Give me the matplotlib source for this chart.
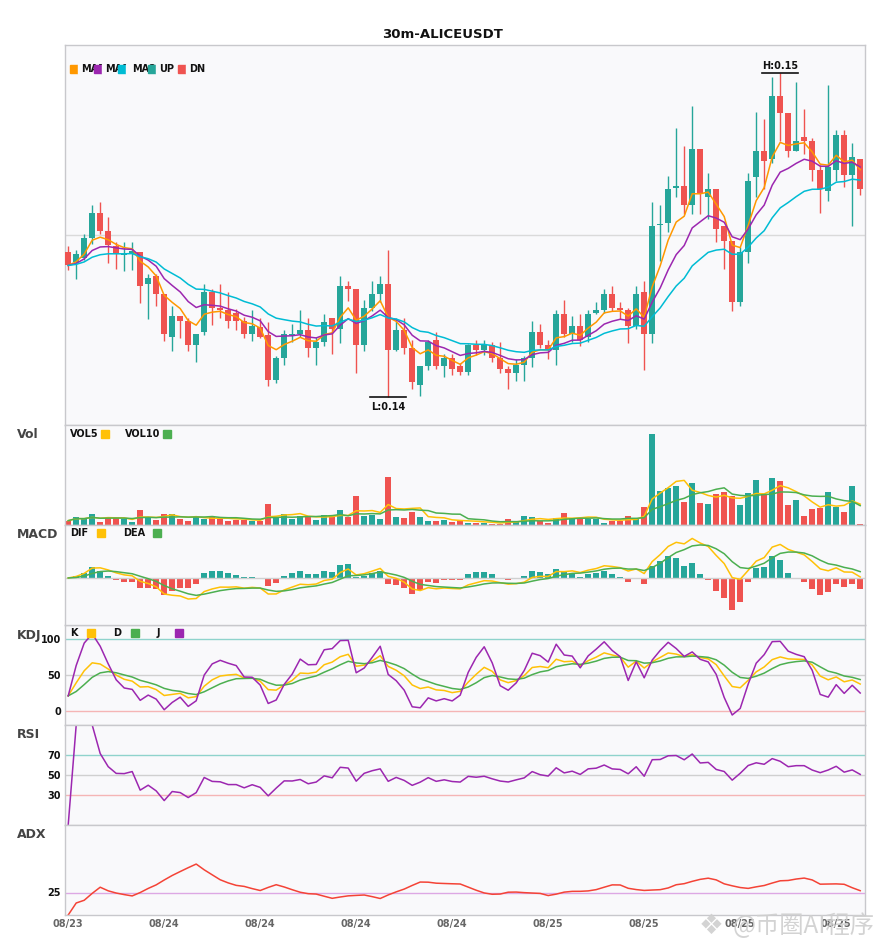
import numpy as np
import pandas as pd
import matplotlib
matplotlib.use("Agg")
import matplotlib.pyplot as plt
from matplotlib.patches import Rectangle

# ---------------- data ----------------
title = "30m-ALICEUSDT"
start_time = "2023-08-23 18:30"

opens = [0.14449, 0.14419, 0.14433, 0.14491, 0.14569, 0.14513, 0.14467, 0.14442, 0.14445, 0.14449,
         0.14354, 0.14377, 0.14325, 0.14195, 0.14257, 0.14242, 0.14171, 0.14209, 0.14329, 0.14282,
         0.14275, 0.14267, 0.14243, 0.14203, 0.14225, 0.14201, 0.14065, 0.14132, 0.14200, 0.14203,
         0.14217, 0.14163, 0.14179, 0.14251, 0.14219, 0.14347, 0.14339, 0.14171, 0.14281, 0.14323,
         0.14353, 0.14155, 0.14217, 0.14161, 0.14051, 0.14107, 0.14185, 0.14107, 0.14131, 0.14107,
         0.14089, 0.14171, 0.14157, 0.14171, 0.14133, 0.14099, 0.14085, 0.14109, 0.14131, 0.14209,
         0.14171, 0.14155, 0.14265, 0.14203, 0.14227, 0.14195, 0.14267, 0.14275, 0.14323, 0.14281,
         0.14275, 0.14227, 0.14329, 0.14203, 0.14531, 0.14537, 0.14643, 0.14649, 0.14593, 0.14761,
         0.14617, 0.14641, 0.14529, 0.14483, 0.14299, 0.14449, 0.14675, 0.14753, 0.14729, 0.14921,
         0.14867, 0.14753, 0.14795, 0.14785, 0.14697, 0.14633, 0.14697, 0.14801, 0.14681, 0.14729]
highs = [0.14467, 0.14457, 0.14505, 0.14593, 0.14601, 0.14555, 0.14481, 0.14481, 0.14481, 0.14449,
         0.14385, 0.14385, 0.14325, 0.14289, 0.14257, 0.14251, 0.14203, 0.14353, 0.14339, 0.14353,
         0.14329, 0.14279, 0.14255, 0.14275, 0.14251, 0.14240, 0.14137, 0.14217, 0.14233, 0.14275,
         0.14251, 0.14195, 0.14265, 0.14251, 0.14377, 0.14363, 0.14339, 0.14305, 0.14363, 0.14377,
         0.14457, 0.14251, 0.14251, 0.14185, 0.14107, 0.14185, 0.14209, 0.14145, 0.14145, 0.14115,
         0.14175, 0.14185, 0.14185, 0.14179, 0.14179, 0.14107, 0.14129, 0.14139, 0.14243, 0.14233,
         0.14185, 0.14275, 0.14305, 0.14257, 0.14265, 0.14275, 0.14299, 0.14339, 0.14347, 0.14299,
         0.14281, 0.14347, 0.14363, 0.14601, 0.14593, 0.14680, 0.14823, 0.14769, 0.14889, 0.14761,
         0.14689, 0.14641, 0.14529, 0.14483, 0.14465, 0.14689, 0.14873, 0.14849, 0.14977, 0.14990,
         0.14867, 0.14961, 0.14881, 0.14793, 0.14713, 0.14953, 0.14817, 0.14817, 0.14777, 0.14729]
lows = [0.14395, 0.14369, 0.14425, 0.14473, 0.14505, 0.14417, 0.14399, 0.14393, 0.14397, 0.14297,
        0.14249, 0.14289, 0.14183, 0.14153, 0.14193, 0.14153, 0.14120, 0.14201, 0.14230, 0.14251,
        0.14223, 0.14217, 0.14191, 0.14183, 0.14193, 0.14047, 0.14057, 0.14111, 0.14179, 0.14195,
        0.14135, 0.14111, 0.14169, 0.14143, 0.14177, 0.14303, 0.14087, 0.14153, 0.14273, 0.14299,
        0.14013, 0.14153, 0.14145, 0.14039, 0.14017, 0.14095, 0.14099, 0.14073, 0.14081, 0.14081,
        0.14081, 0.14141, 0.14141, 0.14119, 0.14087, 0.14039, 0.14063, 0.14063, 0.14105, 0.14161,
        0.14129, 0.14111, 0.14195, 0.14179, 0.14169, 0.14181, 0.14265, 0.14267, 0.14273, 0.14249,
        0.14177, 0.14219, 0.14095, 0.14177, 0.14423, 0.14510, 0.14615, 0.14565, 0.14565, 0.14565,
        0.14551, 0.14479, 0.14399, 0.14273, 0.14287, 0.14417, 0.14615, 0.14641, 0.14719, 0.14785,
        0.14735, 0.14753, 0.14745, 0.14665, 0.14567, 0.14605, 0.14665, 0.14647, 0.14529, 0.14623]
closes = [0.14410, 0.14443, 0.14491, 0.14569, 0.14513, 0.14472, 0.14445, 0.14444, 0.14453, 0.14348,
          0.14371, 0.14324, 0.14203, 0.14257, 0.14243, 0.14171, 0.14203, 0.14329, 0.14282, 0.14277,
          0.14243, 0.14243, 0.14203, 0.14227, 0.14195, 0.14065, 0.14131, 0.14203, 0.14202, 0.14217,
          0.14163, 0.14179, 0.14241, 0.14219, 0.14347, 0.14339, 0.14171, 0.14281, 0.14323, 0.14353,
          0.14155, 0.14217, 0.14161, 0.14059, 0.14107, 0.14179, 0.14107, 0.14131, 0.14099, 0.14089,
          0.14171, 0.14157, 0.14171, 0.14133, 0.14099, 0.14085, 0.14109, 0.14131, 0.14209, 0.14171,
          0.14155, 0.14265, 0.14203, 0.14227, 0.14187, 0.14265, 0.14275, 0.14323, 0.14281, 0.14275,
          0.14227, 0.14323, 0.14203, 0.14529, 0.14535, 0.14641, 0.14649, 0.14593, 0.14761, 0.14625,
          0.14641, 0.14521, 0.14483, 0.14299, 0.14449, 0.14665, 0.14753, 0.14723, 0.14921, 0.14867,
          0.14753, 0.14785, 0.14785, 0.14697, 0.14641, 0.14705, 0.14801, 0.14681, 0.14737, 0.14641]
# volume (thousand ALICE)
volumes = [13, 25, 19, 34, 10, 22, 22, 19, 10, 46,
           22, 16, 34, 34, 19, 13, 25, 19, 25, 19,
           13, 16, 16, 13, 13, 64, 25, 34, 19, 28,
           25, 16, 31, 25, 46, 25, 85, 28, 31, 19,
           142, 25, 22, 40, 25, 13, 13, 16, 10, 16,
           7, 7, 7, 4, 4, 19, 10, 28, 25, 13,
           7, 22, 37, 22, 19, 19, 19, 7, 13, 13,
           28, 22, 55, 271, 100, 109, 115, 70, 124, 67,
           64, 91, 97, 85, 61, 94, 133, 91, 139, 130,
           61, 76, 28, 49, 52, 97, 55, 40, 115, 4]

panel_names = ["Vol", "MACD", "KDJ", "RSI", "ADX"]
ma_labels = ["MA5", "MA10", "MA20", "UP", "DN"]

# ---------------- styles ----------------
UP, DN = "#26A69A", "#EF5350"
C_MA5, C_MA10, C_MA20 = "#FF9800", "#9C27B0", "#00BCD4"
C_Y, C_G, C_P = "#FFC107", "#4CAF50", "#9C27B0"
FACE = "#F9F9FB"
SPINE = "#C8C8CC"

df = pd.DataFrame(dict(open=opens, high=highs, low=lows, close=closes, vol=volumes))
n = len(df)
x = np.arange(n)
times = pd.date_range(start_time, periods=n, freq="30min")
o, h, l, c, v = df["open"], df["high"], df["low"], df["close"], df["vol"]
up = (c >= o).values
cols = np.where(up, UP, DN)

# indicators
ma5 = c.ewm(span=5, adjust=False).mean()
ma10 = c.ewm(span=10, adjust=False).mean()
ma20 = c.ewm(span=20, adjust=False).mean()
vol5 = v.rolling(5, min_periods=1).mean()
vol10 = v.rolling(10, min_periods=1).mean()

ema_fast = c.ewm(span=6, adjust=False).mean()
ema_slow = c.ewm(span=13, adjust=False).mean()
dif = ema_fast - ema_slow
dea = dif.ewm(span=5, adjust=False).mean()
hist = dif - dea

llv = l.rolling(9, min_periods=1).min()
hhv = h.rolling(9, min_periods=1).max()
rsv = ((c - llv) / (hhv - llv) * 100).fillna(50)
K = rsv.ewm(com=2, adjust=False).mean()
D = K.ewm(com=2, adjust=False).mean()
J = 3 * K - 2 * D

diff = c.diff().fillna(0)
gain = diff.clip(lower=0).ewm(alpha=1 / 14, adjust=False).mean()
loss = (-diff.clip(upper=0)).ewm(alpha=1 / 14, adjust=False).mean()
rsi = (100 * gain / (gain + loss)).fillna(0)

prev_c = c.shift(1).fillna(c.iloc[0])
tr = pd.concat([h - l, (h - prev_c).abs(), (l - prev_c).abs()], axis=1).max(axis=1)
up_move = h.diff().fillna(0)
dn_move = (-l.diff()).fillna(0)
pdm = np.where((up_move > dn_move) & (up_move > 0), up_move, 0.0)
mdm = np.where((dn_move > up_move) & (dn_move > 0), dn_move, 0.0)
atr = tr.ewm(span=14, adjust=False).mean()
pdi = 100 * pd.Series(pdm).ewm(span=14, adjust=False).mean() / atr
mdi = 100 * pd.Series(mdm).ewm(span=14, adjust=False).mean() / atr
dx = (100 * (pdi - mdi).abs() / (pdi + mdi)).fillna(0)
adx = dx.ewm(span=14, adjust=False).mean()

# ---------------- figure ----------------
W, H = 885, 950
fig = plt.figure(figsize=(W / 100, H / 100), dpi=100)
L0, R0 = 65, 865


def mk_ax(top, bottom):
    return fig.add_axes([L0 / W, 1 - bottom / H, (R0 - L0) / W, (bottom - top) / H])


ax_main = mk_ax(45, 425)
ax_vol = mk_ax(425, 525)
ax_macd = mk_ax(525, 625)
ax_kdj = mk_ax(625, 725)
ax_rsi = mk_ax(725, 825)
ax_adx = mk_ax(825, 915)
axes = [ax_main, ax_vol, ax_macd, ax_kdj, ax_rsi, ax_adx]

for ax in axes:
    ax.set_facecolor(FACE)
    for s in ax.spines.values():
        s.set_color(SPINE)
        s.set_linewidth(1)
    ax.set_xlim(-0.4, n - 0.4)
    ax.tick_params(length=0, labelsize=7)
    ax.set_xticks([])
    ax.set_yticks([])

# main candles
ax_main.vlines(x, l, h, colors=cols, lw=1.0, zorder=2)
body_lo = np.minimum(o, c)
body_h = np.maximum((c - o).abs().values, 0.00003)
ax_main.bar(x, body_h, bottom=body_lo, width=0.75, color=cols, zorder=3, linewidth=0)
ax_main.plot(x, ma5, color=C_MA5, lw=1.1, zorder=4)
ax_main.plot(x, ma10, color=C_MA10, lw=1.1, zorder=4)
ax_main.plot(x, ma20, color=C_MA20, lw=1.1, zorder=4)
lo_v, hi_v = l.min(), h.max()
pad = 0.085 * (hi_v - lo_v)
ax_main.set_ylim(lo_v - pad, hi_v + pad)
ax_main.set_yticks([0.145])
ax_main.set_yticklabels([])
ax_main.yaxis.grid(True, color="#DADADA", lw=1)
ax_main.set_axisbelow(True)

ih, il = int(h.values.argmax()), int(l.values.argmin())
ax_main.plot([ih - 2.25, ih + 2.25], [hi_v, hi_v], color="#111", lw=1.2, zorder=5)
ax_main.annotate(f"H:{hi_v:.2f}", (ih, hi_v), xytext=(0, 1.5), textcoords="offset points",
                 ha="center", va="bottom", fontsize=7, fontweight="bold", color="#111")
ax_main.plot([il - 2.25, il + 2.25], [lo_v, lo_v], color="#111", lw=1.2, zorder=5)
ax_main.annotate(f"L:{lo_v:.2f}", (il, lo_v), xytext=(0, -3), textcoords="offset points",
                 ha="center", va="top", fontsize=7, fontweight="bold", color="#111")


def ax_px(ax, px, py, top):
    """axes-fraction coords from figure pixel offsets"""
    bb = ax.get_position()
    return (px - L0) / (R0 - L0), 1 - (py - top) / (bb.height * H)


# main legend (markers first; each entry covers the previous one)
main_cols = [C_MA5, C_MA10, C_MA20, UP, DN]
main_hx = [70, 94, 118, 148, 178]
main_tx = [81, 105, 132, 159, 189]
for k, (lab, colr, hx, tx) in enumerate(zip(ma_labels, main_cols, main_hx, main_tx)):
    z = 10 + 2 * k
    xt, yt = ax_px(ax_main, tx, 69, 45)
    ax_main.text(xt, yt, lab, transform=ax_main.transAxes, fontsize=7, fontweight="bold",
                 va="center", ha="left", color="#111", zorder=z,
                 bbox=dict(boxstyle="square,pad=0.35", fc=FACE, ec="none"))
    xa, ya = ax_px(ax_main, hx, 69, 45)
    ax_main.add_patch(Rectangle((xa, ya - 4 / 380), 8 / 800, 8 / 380, transform=ax_main.transAxes,
                                color=colr, zorder=z + 1, clip_on=False))
    ax_main.add_patch(Rectangle((xa + 8 / 800, ya - 5 / 380), (tx - hx - 8) / 800, 10 / 380,
                                transform=ax_main.transAxes, color=FACE, zorder=z + 1))


def small_legend(ax, top, items, ypx):
    hgt = ax.get_position().height * H
    for lab, colr, tx, hx in items:
        xt, yt = ax_px(ax, tx, ypx, top)
        ax.text(xt, yt, lab, transform=ax.transAxes, fontsize=7, fontweight="bold",
                va="center", ha="left", color="#111", zorder=9)
        xa, ya = ax_px(ax, hx, ypx, top)
        ax.add_patch(Rectangle((xa, ya - 4 / hgt), 8 / 800, 8 / hgt, transform=ax.transAxes,
                               color=colr, zorder=10, clip_on=False))


# volume
ax_vol.bar(x, v, width=0.75, color=cols, linewidth=0)
ax_vol.plot(x, vol5, color=C_Y, lw=1.1)
ax_vol.plot(x, vol10, color=C_G, lw=1.1)
ax_vol.set_ylim(0, v.max() * 1.1)
small_legend(ax_vol, 425, [("VOL5", C_Y, 70, 101), ("VOL10", C_G, 125, 163)], 434)

# MACD
ax_h = ax_macd.twinx()
ax_h.set_xlim(-0.4, n - 0.4)
ax_h.set_yticks([])
for s in ax_h.spines.values():
    s.set_visible(False)
ax_h.bar(x, hist, width=0.75, color=np.where(hist >= 0, UP, DN), linewidth=0)
ax_macd.axhline(0, color="#D0D0D0", lw=1, zorder=0)
ax_macd.plot(x, dif, color=C_Y, lw=1.1, zorder=5)
ax_macd.plot(x, dea, color=C_G, lw=1.1, zorder=5)
Lm = max(dif.abs().max(), dea.abs().max())
Hm = hist.abs().max()
ax_macd.set_ylim(-1.19 * Lm, 1.34 * Lm)
ax_h.set_ylim(-1.47 * Hm, 1.66 * Hm)
ax_macd.set_zorder(ax_h.get_zorder() + 1)
ax_macd.patch.set_visible(False)
ax_h.set_facecolor(FACE)
ax_h.patch.set_visible(True)
small_legend(ax_macd, 525, [("DIF", C_Y, 70, 97), ("DEA", C_G, 123, 153)], 533)

# KDJ
for lvl, colr in [(100, "#8FD3CC"), (50, "#D0D0D0"), (0, "#F5B5B5")]:
    ax_kdj.axhline(lvl, color=colr, lw=1, zorder=0)
ax_kdj.plot(x, K, color=C_Y, lw=1.1)
ax_kdj.plot(x, D, color=C_G, lw=1.1)
ax_kdj.plot(x, J, color=C_P, lw=1.1)
ax_kdj.set_ylim(-20, 120)
ax_kdj.set_yticks([0, 50, 100])
small_legend(ax_kdj, 625, [("K", C_Y, 70, 87), ("D", C_G, 113, 131), ("J", C_P, 157, 175)], 633)

# RSI
for lvl, colr in [(70, "#8FD3CC"), (50, "#D0D0D0"), (30, "#F5B5B5")]:
    ax_rsi.axhline(lvl, color=colr, lw=1, zorder=0)
ax_rsi.plot(x, rsi, color=C_P, lw=1.1)
ax_rsi.set_ylim(0, 100)
ax_rsi.set_yticks([30, 50, 70])

# ADX
ax_adx.axhline(25, color="#DDA8E4", lw=1, zorder=0)
ax_adx.plot(x, adx, color="#F44336", lw=1.1)
ax_adx.set_ylim(0, 100)
ax_adx.set_yticks([25])

for ax in [ax_kdj, ax_rsi, ax_adx]:
    ax.tick_params(axis="y", labelsize=7, pad=3)
    for t in ax.get_yticklabels():
        t.set_fontweight("bold")
        t.set_color("#111")

tick_idx = x[::12]
ax_adx.set_xticks(tick_idx)
ax_adx.set_xticklabels([times[i].strftime("%m/%d") for i in tick_idx], fontsize=7,
                       fontweight="bold", color="#666")
ax_adx.tick_params(axis="x", pad=3)

# titles / panel names
fig.text(0.5, 1 - 34 / H, title, ha="center", va="center", fontsize=9.5, fontweight="bold", color="#111")
for name, ypx in zip(panel_names, [435, 535, 636, 735, 835]):
    fig.text(17 / W, 1 - ypx / H, name, ha="left", va="center", fontsize=9,
             fontweight="bold", color="#444")

# watermark
fig.text(699 / W, 1 - 926 / H, "❖", ha="left", va="center", fontsize=20,
         family=["DejaVu Sans"], color="#CFCFCF", alpha=0.9)
fig.text(733 / W, 1 - 926 / H, "@币圈AI程序", ha="left", va="center", fontsize=17.5,
         family=["Noto Sans CJK SC", "DejaVu Sans"], color="#CFCFCF", alpha=0.9)

fig.savefig("out.png", dpi=100, facecolor="white")
